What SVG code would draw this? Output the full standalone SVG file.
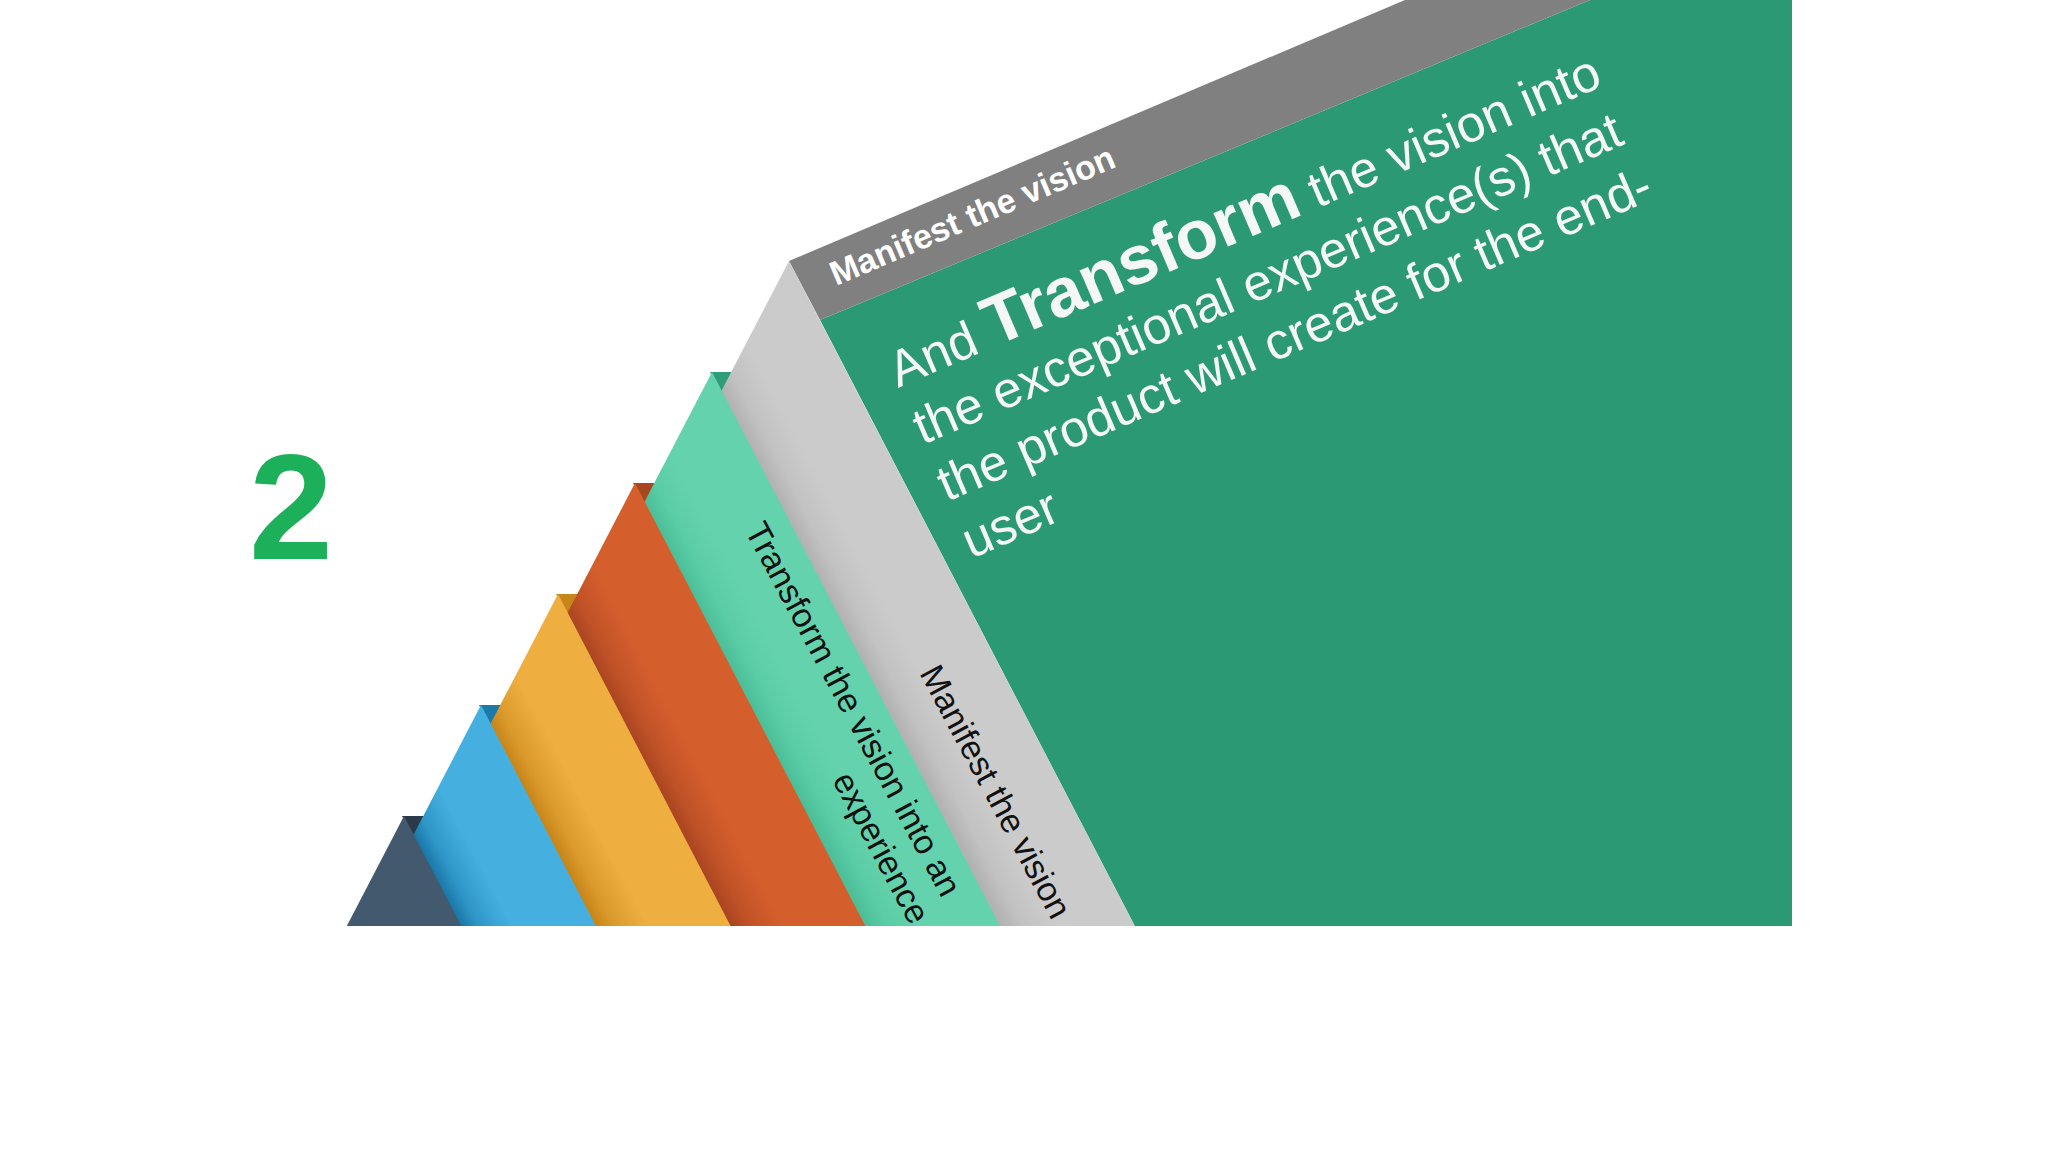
<svg xmlns="http://www.w3.org/2000/svg" width="2048" height="1152" viewBox="0 0 2048 1152">
  <defs>
    <style>
      .lbl { font-family: "Liberation Sans", Arial, sans-serif; }
      .strip { font-size: 34px; fill: #111111; }
      .body { font-size: 51px; fill: #f4f7f5; }
      .band { font-size: 34px; font-weight: bold; fill: #ffffff; }
    </style>
    <linearGradient id="gBlue" gradientUnits="userSpaceOnUse" x1="404" y1="816" x2="444" y2="795">
      <stop offset="0" stop-color="#1a78a8"/>
      <stop offset="0.35" stop-color="#2f97c8"/>
      <stop offset="1" stop-color="#45b0e0"/>
    </linearGradient>
    <linearGradient id="gYellow" gradientUnits="userSpaceOnUse" x1="481" y1="705" x2="521" y2="684">
      <stop offset="0" stop-color="#c8861a"/>
      <stop offset="0.35" stop-color="#db9a2c"/>
      <stop offset="1" stop-color="#eeae40"/>
    </linearGradient>
    <linearGradient id="gOrange" gradientUnits="userSpaceOnUse" x1="558" y1="594" x2="598" y2="573">
      <stop offset="0" stop-color="#ab4621"/>
      <stop offset="0.35" stop-color="#c05227"/>
      <stop offset="1" stop-color="#d55e2d"/>
    </linearGradient>
    <linearGradient id="gTeal" gradientUnits="userSpaceOnUse" x1="635" y1="483" x2="675" y2="462">
      <stop offset="0" stop-color="#4dbf98"/>
      <stop offset="0.4" stop-color="#5acca6"/>
      <stop offset="1" stop-color="#64d3ad"/>
    </linearGradient>
    <linearGradient id="gGray" gradientUnits="userSpaceOnUse" x1="712" y1="372" x2="752" y2="351">
      <stop offset="0" stop-color="#b2b2b3"/>
      <stop offset="0.4" stop-color="#c2c2c3"/>
      <stop offset="1" stop-color="#cccbcc"/>
    </linearGradient>
    <clipPath id="clipBase">
      <rect x="0" y="0" width="2048" height="926"/>
    </clipPath>
  </defs>

  <rect x="0" y="0" width="2048" height="1152" fill="#ffffff"/>

  <g id="number">
    <text class="lbl" x="291" y="559" text-anchor="middle" font-size="151" font-weight="bold" fill="#1cb05a">2</text>
  </g>

  <g id="caps">
    <polygon points="402,816 424,816 413,838" fill="#2b3a49"/>
    <polygon points="479,705 501,705 490,727" fill="#1b7aa8"/>
    <polygon points="556,594 578,594 567,616" fill="#c8861a"/>
    <polygon points="633,483 655,483 644,505" fill="#a8461f"/>
    <polygon points="710,372 732,372 721,394" fill="#2f9c7b"/>
  </g>

  <g id="box">
    <polygon points="820,320 1590,0 1792,0 1792,926 1134.8,926" fill="#2b9a74"/>
    <polygon points="789,261 1405,0 1590,0 820,320" fill="#808080"/>
    <polygon points="789,261 443.2,926 1134.8,926" fill="url(#gGray)"/>
  </g>

  <g id="layer-teal">
    <polygon points="712,372 423.9,926 1000.1,926" fill="url(#gTeal)"/>
  </g>
  <g id="layer-orange">
    <polygon points="635,483 404.6,926 865.4,926" fill="url(#gOrange)"/>
  </g>
  <g id="layer-yellow">
    <polygon points="558,594 385.4,926 730.6,926" fill="url(#gYellow)"/>
  </g>
  <g id="layer-blue">
    <polygon points="481,705 366.1,926 595.9,926" fill="url(#gBlue)"/>
  </g>
  <g id="layer-navy">
    <polygon points="404,816 346.8,926 461.2,926" fill="#435a6e"/>
  </g>

  <g id="label-band" class="lbl">
    <text class="band" transform="translate(836,286) rotate(-23)">Manifest the vision</text>
  </g>

  <g id="label-body" class="lbl">
    <text class="body" transform="translate(898,388) rotate(-23.2)">
      <tspan x="0" y="0">And <tspan font-weight="bold" font-size="69">Transform</tspan> the vision into</tspan>
      <tspan x="0" y="62">the exceptional experience(s) that</tspan>
      <tspan x="0" y="124">the product will create for the end-</tspan>
      <tspan x="0" y="186">user</tspan>
    </text>
  </g>

  <g id="label-teal" class="lbl" clip-path="url(#clipBase)">
    <text class="strip" transform="translate(748,537) rotate(61.8)" text-anchor="end">
      <tspan x="420" y="0">Transform the vision into an</tspan>
      <tspan x="420" y="41">experience</tspan>
    </text>
  </g>

  <g id="label-gray" class="lbl" clip-path="url(#clipBase)">
    <text class="strip" transform="translate(919,673) rotate(61.8)">Manifest the vision</text>
  </g>

  <g id="connectors"/>
</svg>
